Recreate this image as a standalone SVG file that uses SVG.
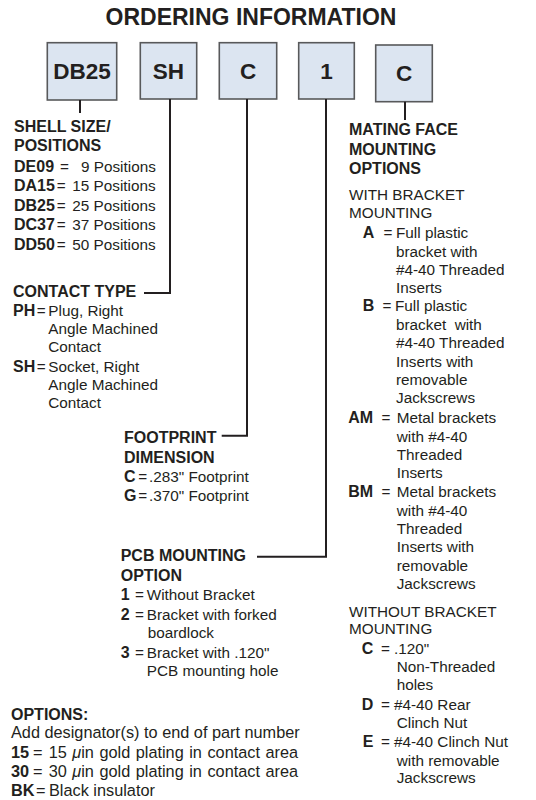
<svg xmlns="http://www.w3.org/2000/svg" width="536" height="800" viewBox="0 0 536 800">
<style>
text{font-family:"Liberation Sans",Arial,Helvetica,sans-serif;fill:#231f20}
.t{font-size:23px;font-weight:bold}
.bx{font-size:22.5px;font-weight:bold;text-anchor:middle}
.h{font-size:16px;font-weight:bold}
.r{font-size:15.3px}
.o{font-size:16.3px}
.k{font-weight:bold;font-size:16.3px}
.box{fill:#dce5f1;stroke:#58595b;stroke-width:1.6}
.ln{fill:none;stroke:#231f20;stroke-width:2}
</style>
<rect width="536" height="800" fill="#fff"/>
<text class="t" x="251" y="25" text-anchor="middle">ORDERING INFORMATION</text>

<g id="box-db25"><rect class="box" x="47.3" y="42.7" width="69.4" height="57.3"/><text class="bx" x="82" y="79.3">DB25</text></g>
<g id="box-sh"><rect class="box" x="140.3" y="42.7" width="56.4" height="56.3"/><text class="bx" x="168.5" y="79.3">SH</text></g>
<g id="box-c"><rect class="box" x="219.3" y="42.7" width="57.4" height="56.3"/><text class="bx" x="248" y="79.3">C</text></g>
<g id="box-1"><rect class="box" x="298.7" y="42.7" width="55.6" height="56.3"/><text class="bx" x="326.5" y="79.3">1</text></g>
<g id="box-c2"><rect class="box" x="375.7" y="45" width="56.6" height="56.7"/><text class="bx" x="404" y="81">C</text></g>

<g id="connectors">
<path class="ln" d="M80,100 V113"/>
<path class="ln" d="M170,99 V293 H144"/>
<path class="ln" d="M247,99 V435.7 H221.7"/>
<path class="ln" d="M326,99 V556.7 H257"/>
<path class="ln" d="M405,101.7 V120"/>
</g>

<g id="shell-size">
<text class="h" x="14" y="131.7">SHELL SIZE/</text>
<text class="h" x="14" y="150.7">POSITIONS</text>
<text class="r" y="171.5"><tspan class="h" x="14">DE09</tspan><tspan x="60">=</tspan><tspan x="81">9 Positions</tspan></text>
<text class="r" y="191"><tspan class="h" x="14">DA15</tspan><tspan x="56.7">=</tspan><tspan x="72.3">15 Positions</tspan></text>
<text class="r" y="210.5"><tspan class="h" x="14">DB25</tspan><tspan x="56.7">=</tspan><tspan x="72.3">25 Positions</tspan></text>
<text class="r" y="230"><tspan class="h" x="14">DC37</tspan><tspan x="56.7">=</tspan><tspan x="72.3">37 Positions</tspan></text>
<text class="r" y="249.5"><tspan class="h" x="14">DD50</tspan><tspan x="56.7">=</tspan><tspan x="72.3">50 Positions</tspan></text>
</g>

<g id="contact-type">
<text class="h" x="13" y="296.5">CONTACT TYPE</text>
<text class="r" y="316"><tspan class="h" x="13">PH</tspan><tspan x="36.7">=</tspan><tspan x="48.3">Plug, Right</tspan></text>
<text class="r" x="48.3" y="334.3">Angle Machined</text>
<text class="r" x="48.3" y="352.3">Contact</text>
<text class="r" y="372.3"><tspan class="h" x="13">SH</tspan><tspan x="36.7">=</tspan><tspan x="48.3">Socket, Right</tspan></text>
<text class="r" x="48.3" y="390">Angle Machined</text>
<text class="r" x="48.3" y="408.3">Contact</text>
</g>

<g id="footprint">
<text class="h" x="124" y="443.3">FOOTPRINT</text>
<text class="h" x="124" y="463.3">DIMENSION</text>
<text class="r" y="481.7"><tspan class="h" x="124">C</tspan><tspan x="138.3">=</tspan><tspan x="149">.283" Footprint</tspan></text>
<text class="r" y="500.5"><tspan class="h" x="124">G</tspan><tspan x="138.3">=</tspan><tspan x="149">.370" Footprint</tspan></text>
</g>

<g id="pcb-mounting">
<text class="h" x="120.7" y="561">PCB MOUNTING</text>
<text class="h" x="120.7" y="581">OPTION</text>
<text class="r" y="600"><tspan class="h" x="120.7">1</tspan><tspan x="135">=</tspan><tspan x="146.7">Without Bracket</tspan></text>
<text class="r" y="620"><tspan class="h" x="120.7">2</tspan><tspan x="135">=</tspan><tspan x="146.7">Bracket with forked</tspan></text>
<text class="r" x="147.7" y="637.7">boardlock</text>
<text class="r" y="657.7"><tspan class="h" x="120.7">3</tspan><tspan x="135">=</tspan><tspan x="146.7">Bracket with .120"</tspan></text>
<text class="r" x="146.7" y="675.7">PCB mounting hole</text>
</g>

<g id="options">
<text class="h" x="11" y="720">OPTIONS:</text>
<text class="o" x="11" y="738.3">Add designator(s) to end of part number</text>
<text class="o" y="757.7" word-spacing="1"><tspan class="k" x="11">15</tspan><tspan x="33">=</tspan><tspan x="48.7">15 </tspan><tspan font-style="italic">μ</tspan><tspan>in gold plating in contact area</tspan></text>
<text class="o" y="776.7" word-spacing="1"><tspan class="k" x="11">30</tspan><tspan x="33">=</tspan><tspan x="48.7">30 </tspan><tspan font-style="italic">μ</tspan><tspan>in gold plating in contact area</tspan></text>
<text class="o" y="796"><tspan class="k" x="11">BK</tspan><tspan x="36">=</tspan><tspan x="49">Black insulator</tspan></text>
</g>

<g id="mating-face">
<text class="h" x="349" y="135.3">MATING FACE</text>
<text class="h" x="349" y="155.3">MOUNTING</text>
<text class="h" x="349" y="174">OPTIONS</text>
<text class="r" x="349" y="200">WITH BRACKET</text>
<text class="r" x="349" y="218.3">MOUNTING</text>
<text class="r" y="238.3"><tspan class="h" x="362.7">A</tspan><tspan x="383.5">=</tspan><tspan x="396">Full plastic</tspan></text>
<text class="r" x="396" y="256.7">bracket with</text>
<text class="r" x="396" y="275">#4-40 Threaded</text>
<text class="r" x="396" y="292.7">Inserts</text>
<text class="r" y="311"><tspan class="h" x="362.7">B</tspan><tspan x="382.5">=</tspan><tspan x="395">Full plastic</tspan></text>
<text class="r" x="396" y="330" xml:space="preserve">bracket  with</text>
<text class="r" x="396" y="348">#4-40 Threaded</text>
<text class="r" x="396" y="366.7">Inserts with</text>
<text class="r" x="396" y="385">removable</text>
<text class="r" x="396" y="403.3">Jackscrews</text>
<text class="r" y="423.3"><tspan class="h" x="348.3">AM</tspan><tspan x="381.5">=</tspan><tspan x="396.7">Metal brackets</tspan></text>
<text class="r" x="396.7" y="441.7">with #4-40</text>
<text class="r" x="396.7" y="460">Threaded</text>
<text class="r" x="396.7" y="478.3">Inserts</text>
<text class="r" y="497.3"><tspan class="h" x="348.3">BM</tspan><tspan x="381.5">=</tspan><tspan x="396.7">Metal brackets</tspan></text>
<text class="r" x="396.7" y="515.7">with #4-40</text>
<text class="r" x="396.7" y="534">Threaded</text>
<text class="r" x="396.7" y="552.3">Inserts with</text>
<text class="r" x="396.7" y="570.7">removable</text>
<text class="r" x="396.7" y="589.3">Jackscrews</text>
<text class="r" x="349" y="616.7">WITHOUT BRACKET</text>
<text class="r" x="349" y="634.3">MOUNTING</text>
<text class="r" y="654"><tspan class="h" x="361.7">C</tspan><tspan x="381">=</tspan><tspan x="394">.120"</tspan></text>
<text class="r" x="396.7" y="672.3">Non-Threaded</text>
<text class="r" x="396.7" y="690">holes</text>
<text class="r" y="710"><tspan class="h" x="361.7">D</tspan><tspan x="381">=</tspan><tspan x="394">#4-40 Rear</tspan></text>
<text class="r" x="396.7" y="728">Clinch Nut</text>
<text class="r" y="746.7"><tspan class="h" x="362.7">E</tspan><tspan x="381">=</tspan><tspan x="394">#4-40 Clinch Nut</tspan></text>
<text class="r" x="396.7" y="765.7">with removable</text>
<text class="r" x="396.7" y="783.3">Jackscrews</text>
</g>
</svg>
